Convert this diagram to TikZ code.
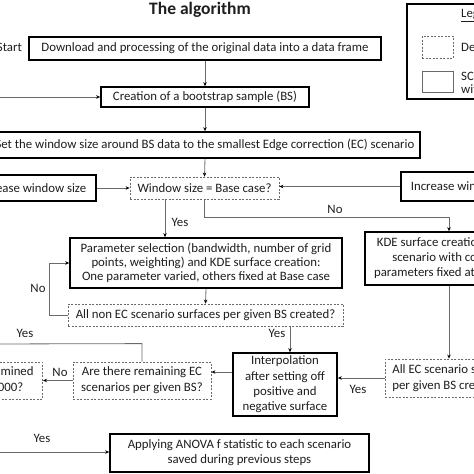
\documentclass[tikz,border=0pt]{standalone}
\usepackage{fontspec}
\setmainfont{Carlito}
\usetikzlibrary{arrows.meta, positioning, calc}
\definecolor{linegray}{HTML}{6A6A6A}
\definecolor{textdark}{HTML}{1E1E1E}
\tikzset{
  procbox/.style={draw=black, line width=1.7pt, fill=white, align=center,
    inner sep=0pt, text=textdark, font=\fontsize{12.8}{14}\selectfont}
}
\tikzset{
  decbox/.style={draw=linegray, line width=0.8pt, dash pattern=on 2pt off 1.5pt,
    fill=white, align=center, inner sep=0pt, text=textdark, font=\fontsize{12.8}{16}\selectfont}
}
\tikzset{
  flow/.style={draw=linegray, line width=0.8pt, -{Stealth[length=4pt,width=3.5pt,color=black]}},
  flowtext/.style={font=\fontsize{12.8}{14}\selectfont, text=textdark, inner sep=0pt}
}

\begin{document}
\begin{tikzpicture}[x=1pt, y=-1pt]
      \useasboundingbox (0,0) rectangle (474,474);
      \clip (0,0) rectangle (474,474);
      \node[font=\fontsize{17.5}{19}\selectfont\bfseries, text=textdark] (title) at (200,10) {The algorithm};
      % legend
      \node[procbox, minimum width=146, minimum height=95] (legend) at (480,51.5) {};
      \node[flowtext, anchor=west] (legtitle) at (461,15) {\underline{Legend}};
      \node[decbox, minimum width=31, minimum height=22] (legdec) at (437.5,47) {};
      \node[flowtext, anchor=west] (legdectext) at (461,47) {Decision};
      \node[draw=linegray, line width=0.8pt, minimum width=31, minimum height=21, inner sep=0pt] (legproc) at (437.5,81.5) {};
      \node[flowtext, anchor=west, align=left, font=\fontsize{12.8}{12.5}\selectfont] (legproctext) at (461,83) {SC process\\with R code};
      % main column
      \node[flowtext, anchor=east] (start) at (22,47) {Start};
      \node[procbox, minimum width=352, minimum height=23] (download) at (205,48.5)
        {Download and processing of the original data into a data frame};
      \node[procbox, minimum width=208, minimum height=20] (bootstrap) at (205,97)
        {Creation of a bootstrap sample (BS)};
      \node[procbox, minimum width=430, minimum height=26] (setwin) at (205,145)
        {Set the window size around BS data to the smallest Edge correction (EC) scenario};
      \node[decbox, minimum width=149, minimum height=22] (winbase) at (204.5,188)
        {Window size = Base case?};
      \node[procbox, anchor=east, inner xsep=10pt, minimum height=26] (incleft) at (97,188)
        {Increase window size};
      \node[procbox, anchor=west, inner xsep=10pt, minimum height=29] (incright) at (400,186.5)
        {Increase window size};
      % parameter branch
      \node[procbox, minimum width=272, minimum height=50] (param) at (206,263)
        {Parameter selection (bandwidth, number of grid\\points, weighting) and KDE surface creation:\\One parameter varied, others fixed at Base case};
      \node[decbox, minimum width=275, minimum height=22] (allnonec) at (205.5,315)
        {All non EC scenario surfaces per given BS created?};
      % EC branch
      \node[procbox, minimum width=172, minimum height=53, font=\fontsize{12.8}{15}\selectfont] (kde) at (451,258.5)
        {KDE surface creation of each\\scenario with constant\\parameters fixed at Base case};
      \node[decbox, anchor=west, align=left, inner xsep=7pt, minimum height=38] (allec) at (385,378)
        {All EC scenario surfaces\\per given BS created?};
      \node[procbox, minimum width=104, minimum height=63, font=\fontsize{12.8}{15.3}\selectfont] (interp) at (285,384.5)
        {Interpolation\\after setting off\\positive and\\negative surface};
      \node[decbox, minimum width=138, minimum height=37] (remain) at (142,380.5)
        {Are there remaining EC\\scenarios per given BS?};
      \node[decbox, anchor=east, inner xsep=9pt, minimum height=37] (examined) at (43,380.5)
        {All BS examined\\up to 1000?};
      \node[procbox, minimum width=259, minimum height=38, font=\fontsize{12.8}{15}\selectfont] (anova) at (239.5,453)
        {Applying ANOVA f statistic to each scenario\\saved during previous steps};
      % helper coordinates
      \coordinate (loopin) at (-10,97);
      \coordinate (loopout) at (-10,344);
      \coordinate (finalin) at (-10,452);
      \coordinate (yesA) at (165,0);
      \coordinate (yesB) at (290,0);
      \coordinate (ecX) at (449,0);
      \coordinate (interpY) at (0,372);
      % connectors
      \draw[flow] (download.south) -- (bootstrap.north);
      \draw[flow] (loopin) -- (bootstrap.west);
      \draw[flow] (bootstrap.south) -- (setwin.north);
      \draw[flow] (setwin.south) -- (winbase.north);
      \draw[flow] (incleft.east) -- (winbase.west);
      \draw[flow] (incright.west) -- (incright.west -| winbase.east);
      \draw[flow] (winbase.south -| yesA) -- (param.north -| yesA);
      \node[flowtext] (yes1) at (180,222) {Yes};
      \draw[flow] (winbase.south) -- ++(0,18) -| (kde.north -| ecX);
      \node[flowtext] (no1) at (335,209) {No};
      \draw[flow] (param.south) -- (allnonec.north);
      \draw[flow] (allnonec.west) -- ++(-18,0) |- (param.west);
      \node[flowtext] (no2) at (38,288) {No};
      \draw[flow] (allnonec.south -| yesB) -- (interp.north -| yesB);
      \node[flowtext] (yes2) at (277,333) {Yes};
      \draw[flow] (kde.south -| ecX) -- (allec.north -| ecX);
      \draw[flow] (allec.west) -- (allec.west -| interp.east);
      \node[flowtext] (yes3) at (358,389) {Yes};
      \draw[flow] (interp.west |- interpY) -- (remain.east |- interpY);
      \draw[draw=linegray, line width=0.8pt] (remain.north) -- ++(0,-18) -- (loopout);
      \node[flowtext] (yes4) at (25,333) {Yes};
      \draw[flow] (remain.west) -- (examined.east);
      \node[flowtext] (no3) at (60,372) {No};
      \draw[flow] (finalin) -- (anova.west |- finalin);
      \node[flowtext] (yes5) at (42,438) {Yes};
\end{tikzpicture}
\end{document}
